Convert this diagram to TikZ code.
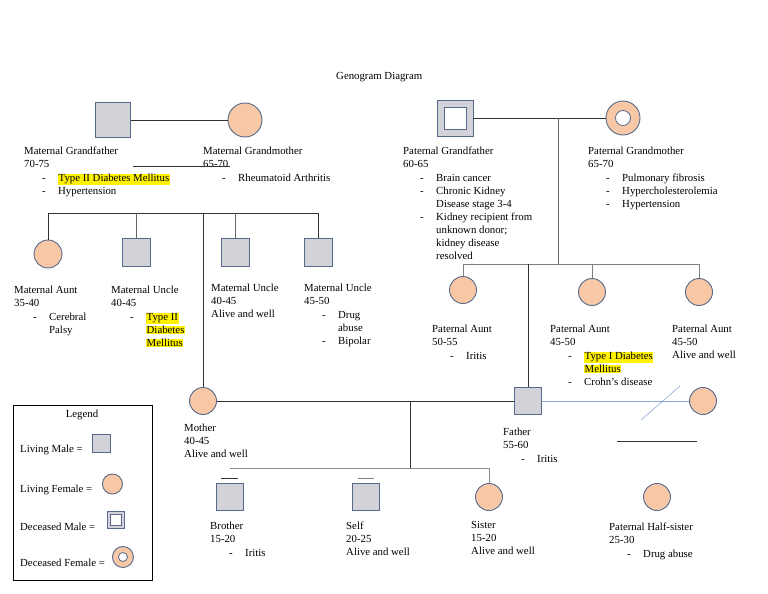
\documentclass[tikz,border=0pt]{standalone}
\usepackage{fontspec}
\setmainfont{Liberation Serif}
\definecolor{peach}{HTML}{F8C7A6}
\definecolor{mgray}{HTML}{D2D2D8}
\definecolor{bord}{HTML}{56698A}
\definecolor{hl}{HTML}{FFF200}
\definecolor{lblue}{HTML}{8FA9D6}
\newcommand{\hi}[1]{{\setlength{\fboxsep}{0.5pt}\colorbox{hl}{#1}}}
\tikzset{
  male/.style={draw=bord, fill=mgray, line width=0.9pt, minimum size=#1, inner sep=0pt},
  female/.style={circle, draw=bord, fill=peach, line width=0.9pt, minimum size=#1, inner sep=0pt},
  hole/.style={draw=bord, fill=white, line width=0.8pt, minimum size=#1, inner sep=0pt},
  txt/.style={anchor=north west, inner sep=0pt, align=left, yshift=-2.5pt, font=\fontsize{10.8}{13}\selectfont},
  rel/.style={draw=black!80, line width=0.7pt},
}
\newcommand{\bul}[1]{\begin{tabular}[t]{@{}p{16pt}@{}l@{}}#1\end{tabular}}
\begin{document}
\begin{tikzpicture}[x=1pt, y=-1pt]
  \useasboundingbox (0,0) rectangle (768,594);
  \node[txt] (title) at (336,70) {Genogram Diagram};

  % grandparents
  \node[male=35pt] (mgf) at (113,120) {};
  \node[female=34pt] (mgm) at (245,120) {};
  \node[male=36pt] (pgf) at (455,118) {};
  \node[hole=22pt] (pgfin) at (pgf) {};
  \node[female=34pt] (pgm) at (623,118) {};
  \node[hole=15pt, circle] (pgmin) at (pgm) {};
  \draw[rel] (mgf) -- (mgm);
  \draw[rel] (pgf) -- (pgm);

  \node[txt] (mgft) at (24,144) {Maternal Grandfather\\70-75};
  \node[txt] (mgfb) at (42,170) {\bul{-&\hi{Type II Diabetes Mellitus}\\-&Hypertension}};
  \node[txt] (mgmt) at (203,144) {Maternal Grandmother\\65-70};
  \node[txt] (mgmb) at (222,170) {\bul{-&Rheumatoid Arthritis}};
  \node[txt] (pgft) at (403,144) {Paternal Grandfather\\60-65};
  \node[txt] (pgfb) at (420,170) {\bul{-&Brain cancer\\-&Chronic Kidney\\&Disease stage 3-4\\-&Kidney recipient from\\&unknown donor;\\&kidney disease\\&resolved}};
  \node[txt] (pgmt) at (588,144) {Paternal Grandmother\\65-70};
  \node[txt] (pgmb) at (606,170) {\bul{-&Pulmonary fibrosis\\-&Hypercholesterolemia\\-&Hypertension}};

  % maternal siblings
  \coordinate (msib) at (48,213);
  \coordinate (mg1) at (133,166);
  \coordinate (mg2) at (230,166);
  \draw[rel, line width=0.5pt] (mg1) -- (mg2);
  \node[female=28pt] (maunt) at (48,254) {};
  \node[male=28pt] (mun1) at (136,252) {};
  \node[male=28pt] (mun2) at (235,252) {};
  \node[male=28pt] (mun3) at (318,252) {};
  \draw[rel] (maunt) -- (maunt|-msib) -- (mun3|-msib) -- (mun3);
  \draw[rel, draw=black!60] (mun1) -- (mun1|-msib);
  \draw[rel, draw=black!60] (mun2) -- (mun2|-msib);

  \node[txt] (mauntt) at (14,283) {Maternal Aunt\\35-40};
  \node[txt] (mauntb) at (33,309) {\bul{-&Cerebral\\&Palsy}};
  \node[txt] (mun1t) at (111,283) {Maternal Uncle\\40-45};
  \node[txt] (mun1b) at (130,309) {\bul{-&\hi{Type II}\\&\hi{Diabetes}\\&\hi{Mellitus}}};
  \node[txt] (mun2t) at (211,281) {Maternal Uncle\\40-45\\Alive and well};
  \node[txt] (mun3t) at (304,281) {Maternal Uncle\\45-50};
  \node[txt] (mun3b) at (322,307) {\bul{-&Drug\\&abuse\\-&Bipolar}};

  % paternal siblings
  \coordinate (pm) at (558,118);
  \coordinate (psib) at (463,264);
  \node[female=27pt] (paunt1) at (463,290) {};
  \node[female=27pt] (paunt2) at (592,292) {};
  \node[female=27pt] (paunt3) at (699,292) {};
  \node[male=27pt] (father) at (528,401) {};
  \draw[rel, draw=black!60] (pm) -- (pm|-psib);
  \draw[rel, draw=black!50] (paunt1) -- (paunt1|-psib) -- (paunt3|-psib) -- (paunt3);
  \draw[rel, draw=black!50] (paunt2) -- (paunt2|-psib);
  \draw[rel] (father) -- (father|-psib);

  \node[txt] (paunt1t) at (432,322) {Paternal Aunt\\50-55};
  \node[txt] (paunt1b) at (450,348) {\bul{-&Iritis}};
  \node[txt] (paunt2t) at (550,322) {Paternal Aunt\\45-50};
  \node[txt] (paunt2b) at (568,348) {\bul{-&\hi{Type I Diabetes}\\&\hi{Mellitus}\\-&Crohn's disease}};
  \node[txt] (paunt3t) at (672,322) {Paternal Aunt\\45-50\\Alive and well};

  % parents
  \node[female=27pt] (mother) at (203,401) {};
  \draw[rel] (mother) -- (mother|-msib);
  \draw[rel] (mother) -- (father);
  \node[female=27pt] (hsisp) at (703,401) {};
  \draw[draw=lblue, line width=0.8pt] (father) -- (hsisp);
  \coordinate (sl1) at (641,420);
  \coordinate (sl2) at (680,386);
  \draw[draw=lblue, line width=0.6pt] (sl1) -- (sl2);
  \coordinate (hl1) at (617,441);
  \coordinate (hl2) at (697,441);
  \draw[rel, line width=0.5pt] (hl1) -- (hl2);

  \node[txt] (mothert) at (184,421) {Mother\\40-45\\Alive and well};
  \node[txt] (fathert) at (503,425) {Father\\55-60};
  \node[txt] (fatherb) at (521,451) {\bul{-&Iritis}};

  % children
  \coordinate (kid) at (410,401);
  \coordinate (kline) at (410,468);
  \node[male=27pt] (brother) at (230,497) {};
  \node[male=27pt] (self) at (366,497) {};
  \node[female=27pt] (sister) at (489,497) {};
  \node[female=27pt] (hsis) at (657,497) {};
  \draw[rel] (kid) -- (kline);
  \draw[rel, draw=black!45] (brother|-kline) -- (sister|-kline) -- (sister);
  \coordinate (bd1) at (221,478);
  \coordinate (bd2) at (238,478);
  \coordinate (sd1) at (358,478);
  \coordinate (sd2) at (374,478);
  \draw[rel] (bd1) -- (bd2);
  \draw[rel, draw=black!50] (sd1) -- (sd2);

  \node[txt] (brothert) at (210,519) {Brother\\15-20};
  \node[txt] (brotherb) at (229,545) {\bul{-&Iritis}};
  \node[txt] (selft) at (346,519) {Self\\20-25\\Alive and well};
  \node[txt] (sistert) at (471,519) {Sister\\15-20\\Alive and well};
  \node[txt] (hsist) at (609,520) {Paternal Half-sister\\25-30};
  \node[txt] (hsisb) at (627,546) {\bul{-&Drug abuse}};

  % legend
  \node[draw, line width=0.8pt, minimum width=139pt, minimum height=175pt, inner sep=0pt] (legend) at (82.5,492.5) {};
  \node[txt, anchor=north] (legt) at (82,407) {Legend};
  \node[txt, anchor=west] (lm) at (20,447) {Living Male =};
  \node[male=18pt, anchor=west] (lms) at (92,443) {};
  \node[txt, anchor=west] (lf) at (20,487) {Living Female =};
  \node[female=20pt, anchor=west] (lfs) at (102,484) {};
  \node[txt, anchor=west] (dm) at (20,524) {Deceased Male =};
  \node[male=17pt, anchor=west] (dms) at (107,520) {};
  \node[hole=11pt] (dmin) at (dms) {};
  \node[txt, anchor=west] (df) at (20,560) {Deceased Female =};
  \node[female=21pt, anchor=west] (dfs) at (112,557) {};
  \node[hole=9pt, circle] (dfin) at (dfs) {};
\end{tikzpicture}
\end{document}
